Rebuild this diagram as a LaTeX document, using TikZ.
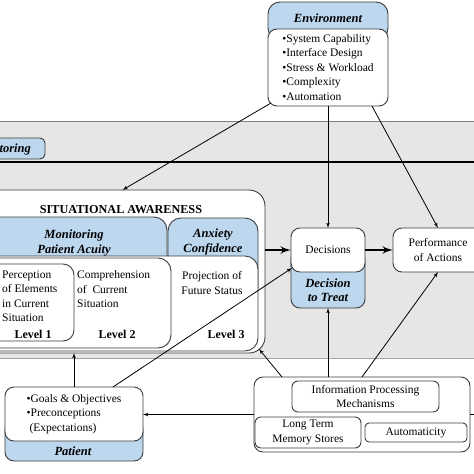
\documentclass[tikz,border=0pt]{standalone}
\usepackage{fontspec}
\setmainfont{Liberation Serif}
\usepackage{xcolor}
\usetikzlibrary{shapes,arrows,positioning}

\definecolor{hdrblue}{RGB}{189,215,238}
\definecolor{bandgrey}{RGB}{230,230,230}
\definecolor{edgegrey}{RGB}{60,60,60}

\begin{document}
\begin{tikzpicture}[
    x=1pt, y=-1pt,
    font=\fontsize{11.5}{14.5}\selectfont,
    box/.style={rectangle, draw=edgegrey, line width=0.9pt, fill=white, rounded corners=9pt, outer sep=0pt, inner sep=2pt},
    hdr/.style={box, fill=hdrblue},
    label/.style={inner sep=0pt, align=center},
    tag/.style={label, font=\fontsize{12.5}{14.5}\selectfont\bfseries\itshape},
    line/.style={draw, line width=0.8pt, -latex'},
    thickline/.style={draw, line width=2.6pt, -latex'}
]

\useasboundingbox (0,0) rectangle (474,474);
\clip (0,0) rectangle (474,474);
\fill [white] (0,0) rectangle (474,474);

% monitoring band
\fill [bandgrey] (0,121) rectangle (480,358);
\draw [gray, line width=0.8pt] (0,121) -- (480,121);
\draw [gray!70, line width=0.8pt] (0,358) -- (480,358);
\draw [line width=2.6pt] (0,162) -- (480,162);
\node [hdr, minimum width=105pt, minimum height=21pt, rounded corners=5pt] (montab) at (-7.5,148.5) {};
\node [tag, anchor=east] (montabtext) at (31,149) {Monitoring};

% environment
\node [hdr, minimum width=120pt, minimum height=38pt, rounded corners=12pt] (envhdr) at (328,21) {};
\node [tag] (envtitle) at (328,18) {Environment};
\node [box, minimum width=120pt, minimum height=77pt, align=left] (env) at (328,67.5)
    {\textbullet System Capability\\\textbullet Interface Design\\\textbullet Stress \& Workload\\\textbullet Complexity\\\textbullet Automation};

% situational awareness
\node [box, minimum width=285pt, minimum height=163pt, rounded corners=16pt] (sa) at (122.5,271.5) {};
\node [label, font=\fontsize{12.2}{14.5}\selectfont\bfseries] (satitle) at (121,210) {SITUATIONAL AWARENESS};
\node [hdr, minimum width=187pt, minimum height=83pt, rounded corners=13pt] (monbox) at (73.5,258.5) {};
\node [tag] (montext) at (74,243) {Monitoring\\Patient Acuity};
\node [hdr, minimum width=90pt, minimum height=82pt, rounded corners=13pt] (anxbox) at (213,259) {};
\node [tag] (anxtext) at (213,242) {Anxiety\\Confidence};
\node [box, minimum width=278pt, minimum height=95pt, rounded corners=13pt] (lvlthree) at (119,303.5) {};
\node [box, minimum width=191pt, minimum height=90pt, rounded corners=13pt] (lvltwo) at (75.5,303) {};
\node [box, minimum width=94pt, minimum height=77pt, rounded corners=11pt] (lvlone) at (27,302.5) {};
\node [label, align=left, anchor=west] (perception) at (2,296) {Perception\\of Elements\\in Current\\Situation};
\node [label, font=\fontsize{12}{14.5}\selectfont\bfseries] (levelone) at (33,334) {Level 1};
\node [label, align=left, anchor=west] (comprehension) at (77,289.5) {Comprehension\\of\ \ Current\\Situation};
\node [label, font=\fontsize{12}{14.5}\selectfont\bfseries] (leveltwo) at (117,334) {Level 2};
\node [label] (projection) at (212,283) {Projection of\\Future Status};
\node [label, font=\fontsize{12}{14.5}\selectfont\bfseries] (levelthree) at (226,334) {Level 3};

% decisions and actions
\node [hdr, minimum width=74pt, minimum height=58pt] (decblue) at (328,279) {};
\node [tag] (dectext) at (328,290) {Decision\\to Treat};
\node [box, minimum width=74pt, minimum height=44pt] (dec) at (328,250) {Decisions};
\node [box, minimum width=90pt, minimum height=44pt, align=center] (perf) at (438,250) {Performance\\of Actions};

% patient
\node [hdr, minimum width=138pt, minimum height=41pt] (patblue) at (74,440.5) {};
\node [tag] (pattext) at (73,451) {Patient};
\node [box, minimum width=138pt, minimum height=54pt, align=left] (pat) at (74,414)
    {\textbullet Goals \& Objectives\\\textbullet Preconceptions\\\ (Expectations)};

% information processing
\node [box, minimum width=216pt, minimum height=75pt] (info) at (362,414.5) {};
\node [box, minimum width=147pt, minimum height=31pt, align=center, rounded corners=6pt] (ipm) at (365.5,396.5) {Information Processing\\Mechanisms};
\node [box, minimum width=106pt, minimum height=31pt, align=center, rounded corners=6pt] (ltm) at (308,432.5) {Long Term\\Memory Stores};
\node [box, minimum width=102pt, minimum height=19pt, rounded corners=4pt] (auto) at (416,432.5) {Automaticity};
\coordinate (offright) at (480,414.5);

% connectors
\path [line] ([xshift=3pt,yshift=3pt]env.south west) -- (sa.north);
\path [line] (env.south) -- (dec.north);
\path [line] ([xshift=-16pt]env.south east) -- (perf.north);
\path [thickline] (sa.east |- dec) -- (dec.west);
\path [thickline] (dec.east) -- (perf.west);
\path [line] ([xshift=-30pt]pat.north east) -- ([xshift=1pt,yshift=4pt]dec.south west);
\path [line] (pat.north) -- (pat.north |- sa.south);
\path [line] ([xshift=28pt]info.north west) -- ([xshift=-6pt,yshift=4pt]sa.south east);
\path [line] (dec.south |- info.north) -- (decblue.south);
\path [line] (info.north) -- (perf.south);
\path [line] (info.west) -- (info.west -| pat.east);
\draw [line width=0.8pt] (info.east) -- (offright);

\end{tikzpicture}
\end{document}
